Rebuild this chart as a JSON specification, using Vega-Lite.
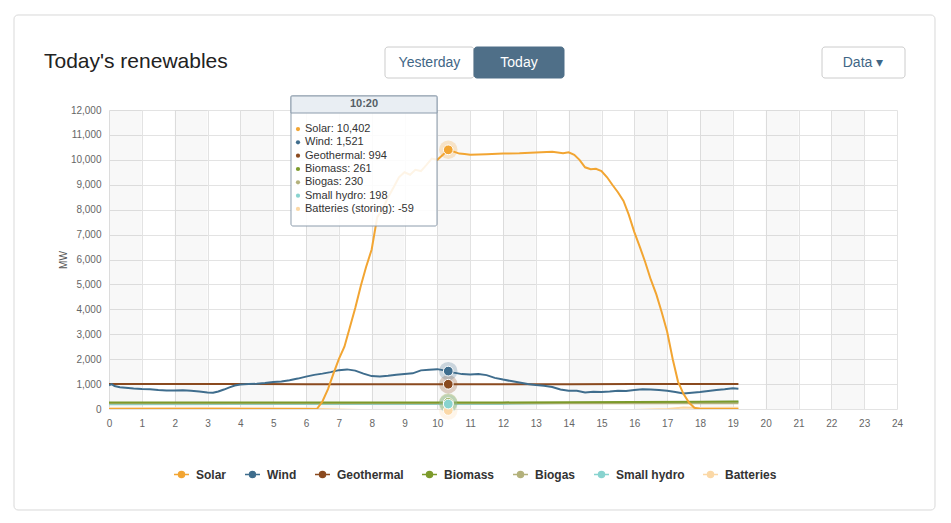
{
  "$schema": "https://vega.github.io/schema/vega-lite/v6.json",
  "width": 788,
  "height": 299,
  "autosize": "none",
  "padding": {"left": 109, "top": 110, "right": 54, "bottom": 114},
  "background": "white",
  "config": {
    "font": "Liberation Sans",
    "view": {"stroke": null},
    "axis": {"labelFont": "Liberation Sans", "titleFont": "Liberation Sans", "labelOverlap": false, "grid": true, "gridColor": "#e3e3e3", "ticks": false, "domain": false}
  },
  "datasets": {
    "bands": [
      {"a": 0, "b": 1}, {"a": 2, "b": 3}, {"a": 4, "b": 5}, {"a": 6, "b": 7},
      {"a": 8, "b": 9}, {"a": 10, "b": 11}, {"a": 12, "b": 13}, {"a": 14, "b": 15},
      {"a": 16, "b": 17}, {"a": 18, "b": 19}, {"a": 20, "b": 21}, {"a": 22, "b": 23}
    ],
    "series": [
      {"s": "Batteries", "t": 0, "v": 30}, {"s": "Batteries", "t": 3, "v": 40}, {"s": "Batteries", "t": 6, "v": 20},
      {"s": "Batteries", "t": 7, "v": -20}, {"s": "Batteries", "t": 8, "v": -50}, {"s": "Batteries", "t": 10.333, "v": -59},
      {"s": "Batteries", "t": 12, "v": -70}, {"s": "Batteries", "t": 14, "v": -60}, {"s": "Batteries", "t": 16, "v": -40},
      {"s": "Batteries", "t": 17, "v": 0}, {"s": "Batteries", "t": 17.5, "v": 60}, {"s": "Batteries", "t": 18, "v": 40},
      {"s": "Batteries", "t": 19.17, "v": 50},

      {"s": "Small hydro", "t": 0, "v": 195}, {"s": "Small hydro", "t": 4, "v": 196}, {"s": "Small hydro", "t": 8, "v": 197},
      {"s": "Small hydro", "t": 10.333, "v": 198}, {"s": "Small hydro", "t": 12, "v": 205}, {"s": "Small hydro", "t": 14, "v": 240},
      {"s": "Small hydro", "t": 16, "v": 265}, {"s": "Small hydro", "t": 18, "v": 285}, {"s": "Small hydro", "t": 19.17, "v": 295},

      {"s": "Biogas", "t": 0, "v": 232}, {"s": "Biogas", "t": 4, "v": 230}, {"s": "Biogas", "t": 8, "v": 229},
      {"s": "Biogas", "t": 10.333, "v": 230}, {"s": "Biogas", "t": 14, "v": 232}, {"s": "Biogas", "t": 19.17, "v": 233},

      {"s": "Biomass", "t": 0, "v": 265}, {"s": "Biomass", "t": 3, "v": 262}, {"s": "Biomass", "t": 6, "v": 260},
      {"s": "Biomass", "t": 9, "v": 262}, {"s": "Biomass", "t": 10.333, "v": 261}, {"s": "Biomass", "t": 12, "v": 265},
      {"s": "Biomass", "t": 14, "v": 275}, {"s": "Biomass", "t": 16, "v": 285}, {"s": "Biomass", "t": 18, "v": 295},
      {"s": "Biomass", "t": 19.17, "v": 300},

      {"s": "Geothermal", "t": 0, "v": 1005}, {"s": "Geothermal", "t": 2, "v": 1000}, {"s": "Geothermal", "t": 4, "v": 1002},
      {"s": "Geothermal", "t": 6, "v": 998}, {"s": "Geothermal", "t": 8, "v": 996}, {"s": "Geothermal", "t": 10.333, "v": 994},
      {"s": "Geothermal", "t": 12, "v": 995}, {"s": "Geothermal", "t": 14, "v": 998}, {"s": "Geothermal", "t": 16, "v": 1000},
      {"s": "Geothermal", "t": 18, "v": 1002}, {"s": "Geothermal", "t": 19.17, "v": 1003},

      {"s": "Wind", "t": 0, "v": 950}, {"s": "Wind", "t": 0.08, "v": 1000}, {"s": "Wind", "t": 0.17, "v": 920},
      {"s": "Wind", "t": 0.33, "v": 870}, {"s": "Wind", "t": 0.5, "v": 850}, {"s": "Wind", "t": 0.75, "v": 820},
      {"s": "Wind", "t": 1.0, "v": 800}, {"s": "Wind", "t": 1.25, "v": 790}, {"s": "Wind", "t": 1.5, "v": 760},
      {"s": "Wind", "t": 1.75, "v": 740}, {"s": "Wind", "t": 2.0, "v": 740}, {"s": "Wind", "t": 2.25, "v": 750},
      {"s": "Wind", "t": 2.5, "v": 730}, {"s": "Wind", "t": 2.75, "v": 700}, {"s": "Wind", "t": 3.0, "v": 660},
      {"s": "Wind", "t": 3.17, "v": 650}, {"s": "Wind", "t": 3.33, "v": 700}, {"s": "Wind", "t": 3.5, "v": 780},
      {"s": "Wind", "t": 3.67, "v": 870}, {"s": "Wind", "t": 3.83, "v": 940}, {"s": "Wind", "t": 4.0, "v": 980},
      {"s": "Wind", "t": 4.25, "v": 1000}, {"s": "Wind", "t": 4.5, "v": 1010}, {"s": "Wind", "t": 4.75, "v": 1040},
      {"s": "Wind", "t": 5.0, "v": 1080}, {"s": "Wind", "t": 5.25, "v": 1100}, {"s": "Wind", "t": 5.5, "v": 1150},
      {"s": "Wind", "t": 5.75, "v": 1220}, {"s": "Wind", "t": 6.0, "v": 1300}, {"s": "Wind", "t": 6.25, "v": 1370},
      {"s": "Wind", "t": 6.5, "v": 1420}, {"s": "Wind", "t": 6.75, "v": 1480}, {"s": "Wind", "t": 7.0, "v": 1560},
      {"s": "Wind", "t": 7.25, "v": 1590}, {"s": "Wind", "t": 7.5, "v": 1540}, {"s": "Wind", "t": 7.75, "v": 1420},
      {"s": "Wind", "t": 8.0, "v": 1320}, {"s": "Wind", "t": 8.25, "v": 1300}, {"s": "Wind", "t": 8.5, "v": 1330},
      {"s": "Wind", "t": 8.75, "v": 1370}, {"s": "Wind", "t": 9.0, "v": 1400}, {"s": "Wind", "t": 9.25, "v": 1430},
      {"s": "Wind", "t": 9.5, "v": 1550}, {"s": "Wind", "t": 9.75, "v": 1580}, {"s": "Wind", "t": 10.0, "v": 1600},
      {"s": "Wind", "t": 10.17, "v": 1560}, {"s": "Wind", "t": 10.333, "v": 1521}, {"s": "Wind", "t": 10.5, "v": 1460},
      {"s": "Wind", "t": 10.75, "v": 1400}, {"s": "Wind", "t": 11.0, "v": 1380}, {"s": "Wind", "t": 11.25, "v": 1400},
      {"s": "Wind", "t": 11.5, "v": 1360}, {"s": "Wind", "t": 11.75, "v": 1250}, {"s": "Wind", "t": 12.0, "v": 1180},
      {"s": "Wind", "t": 12.25, "v": 1120}, {"s": "Wind", "t": 12.5, "v": 1060}, {"s": "Wind", "t": 12.75, "v": 1000},
      {"s": "Wind", "t": 13.0, "v": 960}, {"s": "Wind", "t": 13.25, "v": 930}, {"s": "Wind", "t": 13.5, "v": 880},
      {"s": "Wind", "t": 13.75, "v": 780}, {"s": "Wind", "t": 14.0, "v": 730}, {"s": "Wind", "t": 14.25, "v": 730},
      {"s": "Wind", "t": 14.5, "v": 660}, {"s": "Wind", "t": 14.75, "v": 690}, {"s": "Wind", "t": 15.0, "v": 680},
      {"s": "Wind", "t": 15.25, "v": 700}, {"s": "Wind", "t": 15.5, "v": 730}, {"s": "Wind", "t": 15.75, "v": 720},
      {"s": "Wind", "t": 16.0, "v": 760}, {"s": "Wind", "t": 16.25, "v": 790}, {"s": "Wind", "t": 16.5, "v": 780},
      {"s": "Wind", "t": 16.75, "v": 760}, {"s": "Wind", "t": 17.0, "v": 730}, {"s": "Wind", "t": 17.25, "v": 680},
      {"s": "Wind", "t": 17.5, "v": 620}, {"s": "Wind", "t": 17.75, "v": 650}, {"s": "Wind", "t": 18.0, "v": 680},
      {"s": "Wind", "t": 18.25, "v": 720}, {"s": "Wind", "t": 18.5, "v": 760}, {"s": "Wind", "t": 18.75, "v": 790},
      {"s": "Wind", "t": 19.0, "v": 830}, {"s": "Wind", "t": 19.17, "v": 810},

      {"s": "Solar", "t": 0, "v": 0}, {"s": "Solar", "t": 6.0, "v": 0}, {"s": "Solar", "t": 6.33, "v": 0},
      {"s": "Solar", "t": 6.5, "v": 300}, {"s": "Solar", "t": 6.67, "v": 800}, {"s": "Solar", "t": 6.83, "v": 1400},
      {"s": "Solar", "t": 7.0, "v": 2000}, {"s": "Solar", "t": 7.17, "v": 2500}, {"s": "Solar", "t": 7.33, "v": 3250},
      {"s": "Solar", "t": 7.5, "v": 4050}, {"s": "Solar", "t": 7.67, "v": 4950}, {"s": "Solar", "t": 7.83, "v": 5700},
      {"s": "Solar", "t": 8.0, "v": 6400}, {"s": "Solar", "t": 8.17, "v": 7700}, {"s": "Solar", "t": 8.33, "v": 8000},
      {"s": "Solar", "t": 8.5, "v": 8500}, {"s": "Solar", "t": 8.67, "v": 8900}, {"s": "Solar", "t": 8.83, "v": 9300},
      {"s": "Solar", "t": 9.0, "v": 9500}, {"s": "Solar", "t": 9.17, "v": 9400}, {"s": "Solar", "t": 9.33, "v": 9600},
      {"s": "Solar", "t": 9.5, "v": 9550}, {"s": "Solar", "t": 9.67, "v": 9800}, {"s": "Solar", "t": 9.83, "v": 10050},
      {"s": "Solar", "t": 10.0, "v": 10000}, {"s": "Solar", "t": 10.17, "v": 10200}, {"s": "Solar", "t": 10.333, "v": 10402},
      {"s": "Solar", "t": 10.5, "v": 10330}, {"s": "Solar", "t": 10.67, "v": 10250}, {"s": "Solar", "t": 10.83, "v": 10230},
      {"s": "Solar", "t": 11.0, "v": 10200}, {"s": "Solar", "t": 11.5, "v": 10220}, {"s": "Solar", "t": 12.0, "v": 10250},
      {"s": "Solar", "t": 12.5, "v": 10260}, {"s": "Solar", "t": 13.0, "v": 10290}, {"s": "Solar", "t": 13.5, "v": 10320},
      {"s": "Solar", "t": 13.83, "v": 10260}, {"s": "Solar", "t": 14.0, "v": 10300}, {"s": "Solar", "t": 14.17, "v": 10200},
      {"s": "Solar", "t": 14.33, "v": 10000}, {"s": "Solar", "t": 14.5, "v": 9700}, {"s": "Solar", "t": 14.67, "v": 9620},
      {"s": "Solar", "t": 14.83, "v": 9640}, {"s": "Solar", "t": 15.0, "v": 9550}, {"s": "Solar", "t": 15.17, "v": 9300},
      {"s": "Solar", "t": 15.33, "v": 9000}, {"s": "Solar", "t": 15.5, "v": 8700}, {"s": "Solar", "t": 15.67, "v": 8350},
      {"s": "Solar", "t": 15.83, "v": 7800}, {"s": "Solar", "t": 16.0, "v": 7100}, {"s": "Solar", "t": 16.17, "v": 6500},
      {"s": "Solar", "t": 16.33, "v": 5900}, {"s": "Solar", "t": 16.5, "v": 5200}, {"s": "Solar", "t": 16.67, "v": 4600},
      {"s": "Solar", "t": 16.83, "v": 3900}, {"s": "Solar", "t": 17.0, "v": 3100}, {"s": "Solar", "t": 17.17, "v": 2000},
      {"s": "Solar", "t": 17.33, "v": 1100}, {"s": "Solar", "t": 17.5, "v": 600}, {"s": "Solar", "t": 17.67, "v": 250},
      {"s": "Solar", "t": 17.83, "v": 50}, {"s": "Solar", "t": 18.0, "v": 0}, {"s": "Solar", "t": 18.5, "v": 0},
      {"s": "Solar", "t": 19.17, "v": 0}
    ],
    "hover": [
      {"s": "Batteries", "t": 10.333, "v": -59},
      {"s": "Biogas", "t": 10.333, "v": 230},
      {"s": "Biomass", "t": 10.333, "v": 261},
      {"s": "Geothermal", "t": 10.333, "v": 994},
      {"s": "Wind", "t": 10.333, "v": 1521},
      {"s": "Solar", "t": 10.333, "v": 10402},
      {"s": "Small hydro", "t": 10.333, "v": 198}
    ],
    "tip": [
      {"s": "Solar", "label": "Solar: 10,402"},
      {"s": "Wind", "label": "Wind: 1,521"},
      {"s": "Geothermal", "label": "Geothermal: 994"},
      {"s": "Biomass", "label": "Biomass: 261"},
      {"s": "Biogas", "label": "Biogas: 230"},
      {"s": "Small hydro", "label": "Small hydro: 198"},
      {"s": "Batteries", "label": "Batteries (storing): -59"}
    ]
  },
  "layer": [
    {
      "data": {"name": "bands"},
      "mark": {"type": "rect", "fill": "#000000", "opacity": 0.028},
      "encoding": {
        "x": {
          "field": "a", "type": "quantitative",
          "scale": {"domain": [0, 24], "nice": false, "zero": false},
          "axis": {
            "values": [0,1,2,3,4,5,6,7,8,9,10,11,12,13,14,15,16,17,18,19,20,21,22,23,24],
            "tickCount": 40, "format": "d",
            "title": null, "labelFontSize": 10, "labelColor": "#666666",
            "labelPadding": 9, "labelFlush": false, "labelOverlap": false, "grid": true
          }
        },
        "x2": {"field": "b"},
        "y": {
          "datum": 12000, "type": "quantitative",
          "scale": {"domain": [0, 12000], "nice": false, "zero": false},
          "axis": {
            "values": [0,1000,2000,3000,4000,5000,6000,7000,8000,9000,10000,11000,12000],
            "tickCount": 40,
            "format": ",d", "title": "MW", "titleFontSize": 10, "titleFontWeight": "normal",
            "titleColor": "#555555", "titlePadding": 2, "labelOverlap": false, "grid": true,
            "labelFontSize": 10, "labelColor": "#666666", "labelPadding": 8
          }
        },
        "y2": {"datum": 0}
      }
    },
    {
      "data": {"name": "bands"},
      "transform": [{"filter": "datum.a == 0"}],
      "mark": {"type": "rect", "filled": false, "stroke": "#d9d9d9", "strokeWidth": 1, "cornerRadius": 4},
      "encoding": {
        "x": {"datum": -2.893, "type": "quantitative"},
        "x2": {"datum": 25.157},
        "y": {"datum": 15813, "type": "quantitative"},
        "y2": {"datum": -4053}
      }
    },
    {
      "data": {"name": "series"},
      "mark": {"type": "line", "strokeWidth": 2, "clip": true},
      "encoding": {
        "x": {"field": "t", "type": "quantitative"},
        "y": {"field": "v", "type": "quantitative"},
        "color": {
          "field": "s", "type": "nominal",
          "scale": {
            "domain": ["Solar", "Wind", "Geothermal", "Biomass", "Biogas", "Small hydro", "Batteries"],
            "range": ["#f2a532", "#3f6d8d", "#8a4a1f", "#7c9a2b", "#b3b17b", "#88d3cf", "#fbd8a6"]
          },
          "legend": {
            "title": null, "orient": "none", "direction": "horizontal", "columns": 7,
            "legendX": 64, "legendY": 356, "gridAlign": "none",
            "labelFont": "Liberation Sans", "labelFontSize": 12, "labelFontWeight": "bold",
            "labelColor": "#333333", "labelOffset": 6, "columnPadding": 15,
            "symbolType": "M-1,0H1M-0.4,0A0.4,0.4,0,1,1,0.4,0A0.4,0.4,0,1,1,-0.4,0Z",
            "symbolSize": 225, "symbolStrokeWidth": 1.5,
            "encode": {
              "symbols": {
                "update": {
                  "fill": {"scale": "color", "field": "value"},
                  "fillOpacity": {"value": 1},
                  "stroke": {"scale": "color", "field": "value"}
                }
              }
            }
          }
        },
        "order": {"field": "t", "type": "quantitative"}
      }
    },
    {
      "data": {"name": "hover"},
      "mark": {"type": "point", "shape": "circle", "filled": true, "size": 340, "opacity": 0.25},
      "encoding": {
        "x": {"field": "t", "type": "quantitative"},
        "y": {"field": "v", "type": "quantitative"},
        "color": {"field": "s", "type": "nominal"}
      }
    },
    {
      "data": {"name": "hover"},
      "mark": {"type": "point", "shape": "circle", "filled": true, "size": 95, "opacity": 1, "stroke": "#ffffff", "strokeWidth": 1},
      "encoding": {
        "x": {"field": "t", "type": "quantitative"},
        "y": {"field": "v", "type": "quantitative"},
        "color": {"field": "s", "type": "nominal"}
      }
    },
    {
      "data": {"name": "bands"},
      "transform": [{"filter": "datum.a == 0"}],
      "mark": {"type": "rect", "fill": "#ffffff", "fillOpacity": 0.88, "stroke": "#8c9cac", "strokeWidth": 1, "cornerRadius": 2},
      "encoding": {
        "x": {"datum": 5.543, "type": "quantitative"},
        "x2": {"datum": 9.99},
        "y": {"datum": 12562, "type": "quantitative"},
        "y2": {"datum": 7344}
      }
    },
    {
      "data": {"name": "bands"},
      "transform": [{"filter": "datum.a == 0"}],
      "mark": {"type": "rect", "fill": "#e9eef3", "stroke": "#8c9cac", "strokeWidth": 1},
      "encoding": {
        "x": {"datum": 5.543, "type": "quantitative"},
        "x2": {"datum": 9.99},
        "y": {"datum": 12562, "type": "quantitative"},
        "y2": {"datum": 11879}
      }
    },
    {
      "data": {"name": "bands"},
      "transform": [{"filter": "datum.a == 0"}],
      "mark": {"type": "text", "text": "10:20", "fontSize": 11, "fontWeight": "bold", "color": "#555e66", "align": "center", "baseline": "middle"},
      "encoding": {
        "x": {"datum": 7.766, "type": "quantitative"},
        "y": {"datum": 12221, "type": "quantitative"}
      }
    },
    {
      "data": {"name": "tip"},
      "transform": [{"filter": "datum.s == 'Solar'"}],
      "encoding": {"y": {"datum": 11237, "type": "quantitative"}},
      "layer": [
        {"mark": {"type": "point", "shape": "circle", "filled": true, "size": 18, "opacity": 1}, "encoding": {"x": {"datum": 5.756, "type": "quantitative"}, "color": {"field": "s", "type": "nominal"}}},
        {"mark": {"type": "text", "fontSize": 11, "color": "#333333", "align": "left", "baseline": "middle"}, "encoding": {"x": {"datum": 5.97, "type": "quantitative"}, "text": {"field": "label"}}}
      ]
    },
    {
      "data": {"name": "tip"},
      "transform": [{"filter": "datum.s == 'Wind'"}],
      "encoding": {"y": {"datum": 10703, "type": "quantitative"}},
      "layer": [
        {"mark": {"type": "point", "shape": "circle", "filled": true, "size": 18, "opacity": 1}, "encoding": {"x": {"datum": 5.756, "type": "quantitative"}, "color": {"field": "s", "type": "nominal"}}},
        {"mark": {"type": "text", "fontSize": 11, "color": "#333333", "align": "left", "baseline": "middle"}, "encoding": {"x": {"datum": 5.97, "type": "quantitative"}, "text": {"field": "label"}}}
      ]
    },
    {
      "data": {"name": "tip"},
      "transform": [{"filter": "datum.s == 'Geothermal'"}],
      "encoding": {"y": {"datum": 10168, "type": "quantitative"}},
      "layer": [
        {"mark": {"type": "point", "shape": "circle", "filled": true, "size": 18, "opacity": 1}, "encoding": {"x": {"datum": 5.756, "type": "quantitative"}, "color": {"field": "s", "type": "nominal"}}},
        {"mark": {"type": "text", "fontSize": 11, "color": "#333333", "align": "left", "baseline": "middle"}, "encoding": {"x": {"datum": 5.97, "type": "quantitative"}, "text": {"field": "label"}}}
      ]
    },
    {
      "data": {"name": "tip"},
      "transform": [{"filter": "datum.s == 'Biomass'"}],
      "encoding": {"y": {"datum": 9632, "type": "quantitative"}},
      "layer": [
        {"mark": {"type": "point", "shape": "circle", "filled": true, "size": 18, "opacity": 1}, "encoding": {"x": {"datum": 5.756, "type": "quantitative"}, "color": {"field": "s", "type": "nominal"}}},
        {"mark": {"type": "text", "fontSize": 11, "color": "#333333", "align": "left", "baseline": "middle"}, "encoding": {"x": {"datum": 5.97, "type": "quantitative"}, "text": {"field": "label"}}}
      ]
    },
    {
      "data": {"name": "tip"},
      "transform": [{"filter": "datum.s == 'Biogas'"}],
      "encoding": {"y": {"datum": 9097, "type": "quantitative"}},
      "layer": [
        {"mark": {"type": "point", "shape": "circle", "filled": true, "size": 18, "opacity": 1}, "encoding": {"x": {"datum": 5.756, "type": "quantitative"}, "color": {"field": "s", "type": "nominal"}}},
        {"mark": {"type": "text", "fontSize": 11, "color": "#333333", "align": "left", "baseline": "middle"}, "encoding": {"x": {"datum": 5.97, "type": "quantitative"}, "text": {"field": "label"}}}
      ]
    },
    {
      "data": {"name": "tip"},
      "transform": [{"filter": "datum.s == 'Small hydro'"}],
      "encoding": {"y": {"datum": 8562, "type": "quantitative"}},
      "layer": [
        {"mark": {"type": "point", "shape": "circle", "filled": true, "size": 18, "opacity": 1}, "encoding": {"x": {"datum": 5.756, "type": "quantitative"}, "color": {"field": "s", "type": "nominal"}}},
        {"mark": {"type": "text", "fontSize": 11, "color": "#333333", "align": "left", "baseline": "middle"}, "encoding": {"x": {"datum": 5.97, "type": "quantitative"}, "text": {"field": "label"}}}
      ]
    },
    {
      "data": {"name": "tip"},
      "transform": [{"filter": "datum.s == 'Batteries'"}],
      "encoding": {"y": {"datum": 8027, "type": "quantitative"}},
      "layer": [
        {"mark": {"type": "point", "shape": "circle", "filled": true, "size": 18, "opacity": 1}, "encoding": {"x": {"datum": 5.756, "type": "quantitative"}, "color": {"field": "s", "type": "nominal"}}},
        {"mark": {"type": "text", "fontSize": 11, "color": "#333333", "align": "left", "baseline": "middle"}, "encoding": {"x": {"datum": 5.97, "type": "quantitative"}, "text": {"field": "label"}}}
      ]
    },
    {
      "data": {"name": "bands"},
      "transform": [{"filter": "datum.a == 0"}],
      "mark": {"type": "text", "text": "Today's renewables", "fontSize": 21, "color": "#222222", "align": "left", "baseline": "alphabetic"},
      "encoding": {
        "x": {"datum": -1.98, "type": "quantitative"},
        "y": {"datum": 13685, "type": "quantitative"}
      }
    },
    {
      "data": {"name": "bands"},
      "transform": [{"filter": "datum.a == 0"}],
      "mark": {"type": "rect", "fill": "#ffffff", "stroke": "#cccccc", "strokeWidth": 1, "cornerRadius": 3},
      "encoding": {
        "x": {"datum": 8.406, "type": "quantitative"},
        "x2": {"datum": 11.117},
        "y": {"datum": 14528, "type": "quantitative"},
        "y2": {"datum": 13284}
      }
    },
    {
      "data": {"name": "bands"},
      "transform": [{"filter": "datum.a == 0"}],
      "mark": {"type": "rect", "fill": "#4f6f88", "stroke": "#4f6f88", "strokeWidth": 1, "cornerRadius": 3},
      "encoding": {
        "x": {"datum": 11.117, "type": "quantitative"},
        "x2": {"datum": 13.858},
        "y": {"datum": 14528, "type": "quantitative"},
        "y2": {"datum": 13284}
      }
    },
    {
      "data": {"name": "bands"},
      "transform": [{"filter": "datum.a == 0"}],
      "mark": {"type": "rect", "fill": "#ffffff", "stroke": "#cccccc", "strokeWidth": 1, "cornerRadius": 3},
      "encoding": {
        "x": {"datum": 21.716, "type": "quantitative"},
        "x2": {"datum": 24.244},
        "y": {"datum": 14528, "type": "quantitative"},
        "y2": {"datum": 13284}
      }
    },
    {
      "data": {"name": "bands"},
      "transform": [{"filter": "datum.a == 0"}],
      "mark": {"type": "text", "text": "Yesterday", "fontSize": 14, "color": "#3f6686", "align": "center", "baseline": "middle"},
      "encoding": {
        "x": {"datum": 9.761, "type": "quantitative"},
        "y": {"datum": 13906, "type": "quantitative"}
      }
    },
    {
      "data": {"name": "bands"},
      "transform": [{"filter": "datum.a == 0"}],
      "mark": {"type": "text", "text": "Today", "fontSize": 14, "color": "#ffffff", "align": "center", "baseline": "middle"},
      "encoding": {
        "x": {"datum": 12.487, "type": "quantitative"},
        "y": {"datum": 13906, "type": "quantitative"}
      }
    },
    {
      "data": {"name": "bands"},
      "transform": [{"filter": "datum.a == 0"}],
      "mark": {"type": "text", "text": "Data ▾", "fontSize": 14, "color": "#3f6686", "align": "center", "baseline": "middle"},
      "encoding": {
        "x": {"datum": 22.964, "type": "quantitative"},
        "y": {"datum": 13906, "type": "quantitative"}
      }
    }
  ]
}
